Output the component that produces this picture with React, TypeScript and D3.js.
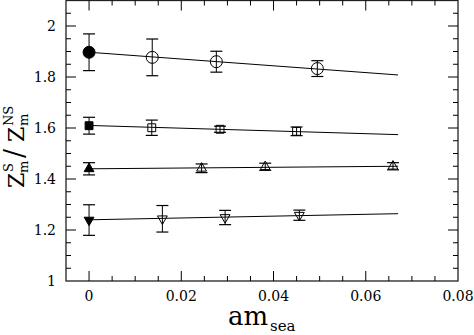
import React from 'react'
import * as d3 from 'd3'

// sea quark mass values and Z_m^S / Z_m^NS with errors, one set per symbol
const circX = [0, 0.0137, 0.0276, 0.0495]
const circY = [1.897, 1.877, 1.86, 1.833]
const circE = [0.072, 0.072, 0.041, 0.031]

const sqX = [0, 0.0136, 0.0284, 0.045]
const sqY = [1.609, 1.601, 1.595, 1.587]
const sqE = [0.033, 0.03, 0.012, 0.017]

const upX = [0, 0.0244, 0.0382, 0.0659]
const upY = [1.44, 1.442, 1.448, 1.45]
const upE = [0.024, 0.017, 0.014, 0.014]

const dnX = [0, 0.0159, 0.0295, 0.0456]
const dnY = [1.239, 1.244, 1.249, 1.258]
const dnE = [0.06, 0.052, 0.028, 0.02]

// straight fits, evaluated at both ends
const fitX = [0, 0.067]
const fitCirc = [1.897, 1.808]
const fitSq = [1.61, 1.574]
const fitUp = [1.44, 1.45]
const fitDn = [1.24, 1.264]

const xMajor = [0, 0.02, 0.04, 0.06, 0.08]
const xLabels = ['0', '0.02', '0.04', '0.06', '0.08']
const yMajor = [1, 1.2, 1.4, 1.6, 1.8, 2]
const yLabels = ['1', '1.2', '1.4', '1.6', '1.8', '2']

const W = 474
const H = 335
const left = 66
const right = 458
const top = 0.5
const bottom = 281
const font = 'DejaVu Serif'

const App = () => {
  const x = d3.scaleLinear().domain([-0.005, 0.08]).range([left, right])
  const y = d3.scaleLinear().domain([1, 2.1]).range([bottom, top])

  const xMinor = d3.range(0, 0.0801, 0.005).filter(v => !xMajor.some(m => Math.abs(m - v) < 1e-6))
  const yMinor = d3.range(1, 2.1, 0.05).filter(v => !yMajor.some(m => Math.abs(m - v) < 1e-6))

  const line = d3.line<number>().x((d, i) => x(fitX[i])).y(d => y(d))

  const series = [
    {xs: circX, ys: circY, es: circE, sym: d3.symbolCircle, size: 113, rot: 0, fit: fitCirc},
    {xs: sqX, ys: sqY, es: sqE, sym: d3.symbolSquare, size: 62, rot: 0, fit: fitSq},
    {xs: upX, ys: upY, es: upE, sym: d3.symbolTriangle, size: 42, rot: 0, fit: fitUp},
    {xs: dnX, ys: dnY, es: dnE, sym: d3.symbolTriangle, size: 42, rot: 180, fit: fitDn}
  ]

  const marks = series.map((s, k) => {
    const path = d3.symbol().type(s.sym).size(s.size)()
    const pts = s.xs.map((xv, i) => {
      const cx = x(xv)
      const y1 = y(s.ys[i] + s.es[i])
      const y2 = y(s.ys[i] - s.es[i])
      const filled = i === 0
      return (
        <g key={i}>
          <line x1={cx} x2={cx} y1={y1} y2={y2} stroke="#000" strokeWidth={1}/>
          <line x1={cx - 6} x2={cx + 6} y1={y1} y2={y1} stroke="#000" strokeWidth={1.2}/>
          <line x1={cx - 6} x2={cx + 6} y1={y2} y2={y2} stroke="#000" strokeWidth={1.2}/>
          <path d={path || ''} transform={`translate(${cx},${y(s.ys[i])}) rotate(${s.rot})`}
            fill={filled ? '#000' : 'none'} stroke="#000" strokeWidth={1}/>
        </g>
      )
    })
    return (
      <g key={k}>
        <path d={line(s.fit) || ''} fill="none" stroke="#000" strokeWidth={1}/>
        {pts}
      </g>
    )
  })

  const ticks = []
  xMajor.concat(xMinor).forEach((v, i) => {
    const len = i < xMajor.length ? 10 : 5
    if (v > 0.0799) return
    ticks.push(<line key={'xb' + i} x1={x(v)} x2={x(v)} y1={bottom} y2={bottom - len} stroke="#000"/>)
    ticks.push(<line key={'xt' + i} x1={x(v)} x2={x(v)} y1={top} y2={top + len} stroke="#000"/>)
  })
  yMajor.concat(yMinor).forEach((v, i) => {
    const len = i < yMajor.length ? 10 : 5
    if (v < 1.001) return
    ticks.push(<line key={'yl' + i} x1={left} x2={left + len} y1={y(v)} y2={y(v)} stroke="#000"/>)
    ticks.push(<line key={'yr' + i} x1={right} x2={right - len} y1={y(v)} y2={y(v)} stroke="#000"/>)
  })

  return (
    <svg width={W} height={H} style={{position: 'absolute', left: 0, top: 0, background: '#fff'}}
      fontFamily={font}>
      <rect x={left} y={top} width={right - left} height={bottom - top} fill="none" stroke="#222" strokeWidth={1.3}/>
      { ticks }
      { marks }
      {xMajor.map((v, i) =>
        <text key={i} x={x(v)} y={301} fontSize={14} textAnchor="middle">{xLabels[i]}</text>)}
      {yMajor.map((v, i) =>
        <text key={i} x={56} y={y(v) + 5} fontSize={14} textAnchor="end">{yLabels[i]}</text>)}
      <text x={228} y={325} fontSize={26}>am</text>
      <text x={270} y={331} fontSize={15}>sea</text>
      <g transform="translate(24,139) rotate(-90)">
        <text x={-49} y={0} fontSize={22}>Z</text>
        <text x={-33} y={-11} fontSize={13}>S</text>
        <text x={-34} y={4} fontSize={13}>m</text>
        <text x={-19} y={0} fontSize={27}>/</text>
        <text x={-3} y={0} fontSize={22}>Z</text>
        <text x={13} y={-11} fontSize={13}>NS</text>
        <text x={13} y={4} fontSize={13}>m</text>
      </g>
    </svg>
  )
}

export default App
